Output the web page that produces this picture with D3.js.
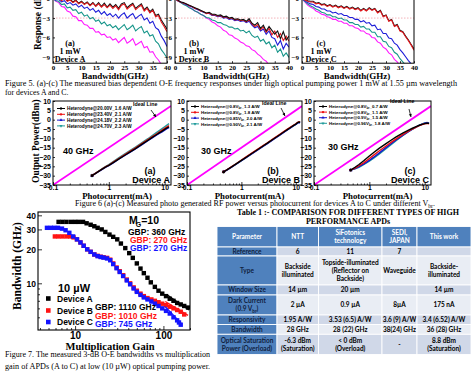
<!DOCTYPE html>
<html><head><meta charset="utf-8">
<script src="https://cdn.jsdelivr.net/npm/d3@7/dist/d3.min.js"></script>
<style>body{margin:0;background:#fff}svg{display:block}</style>
</head><body><svg id="c" width="474" height="373"></svg>
<script>
// ================= DATA =================
// Figure 5: frequency responses (dB) at 0..40 GHz
const f5_ghz = [0,1,2,3,4,5,6,7,8,9,10,11,12,13,14,15,16,17,18,19,20,21,22,23,24,25,26,27,28,29,30,31,32,33,34,35,36,37,38,39,40];
const f5a_black   = [0,-0.1,0.2,-0.2,0.2,-0.3,-0.1,-0.5,-0.2,-0.7,-0.4,-0.8,-0.5,-1.0,-0.6,-1.1,-0.6,-1.2,-0.7,-1.3,-0.8,-1.3,-0.9,-1.5,-0.8,-0.6,-1.4,-1.0,-0.7,-1.5,-1.1,-0.8,-1.7,-1.3,-2.0,-1.6,-2.6,-2.4,-3.3,-4.0,-4.7];
const f5a_red     = [0,-0.1,0.2,-0.3,0.1,-0.4,-0.2,-0.6,-0.3,-0.8,-0.5,-0.9,-0.6,-1.1,-0.7,-1.2,-0.8,-1.3,-0.9,-1.4,-1.0,-1.5,-1.1,-1.7,-1.0,-0.8,-1.6,-1.2,-0.9,-1.7,-1.3,-1.0,-1.9,-1.5,-2.2,-1.8,-2.8,-2.6,-3.6,-4.3,-5.1];
const f5a_blue    = [0,-0.2,-0.1,-0.5,-0.3,-0.8,-0.6,-1.0,-0.8,-1.3,-1.0,-1.5,-1.3,-1.8,-1.5,-2.1,-1.8,-2.4,-2.0,-2.6,-2.3,-2.8,-2.4,-3.0,-2.5,-2.2,-3.0,-2.6,-2.3,-3.1,-2.7,-2.4,-3.3,-3.0,-3.8,-3.5,-4.5,-4.8,-5.8,-6.5,-7.4];
const f5a_teal    = [0,-0.3,-0.4,-0.9,-0.8,-1.4,-1.3,-1.8,-1.7,-2.3,-2.1,-2.7,-2.5,-3.1,-2.9,-3.5,-3.3,-3.9,-3.6,-4.2,-4.0,-4.5,-4.2,-4.8,-4.4,-4.0,-4.8,-4.5,-4.1,-5.0,-4.6,-4.3,-5.3,-5.0,-5.8,-5.6,-6.6,-7.0,-7.9,-8.5,-9.2];
const f5a_magenta = [0,-0.4,-0.6,-1.2,-1.3,-1.9,-2.1,-2.7,-2.8,-3.4,-3.4,-4.0,-4.1,-4.6,-4.6,-5.2,-5.1,-5.6,-5.5,-6.0,-5.9,-6.4,-6.2,-6.8,-6.4,-6.0,-6.9,-6.6,-6.2,-7.2,-6.9,-6.6,-7.6,-7.4,-8.3,-8.2,-9.0,-9.5,-10.2,-10.8,-11.5];

const f5b_black   = [0,-0.2,-0.5,-0.6,-0.8,-1.0,-1.2,-1.4,-1.6,-1.8,-2.0,-2.2,-2.1,-2.4,-2.4,-2.6,-2.5,-2.8,-2.7,-3.0,-2.9,-3.2,-3.1,-3.3,-3.2,-3.5,-3.1,-3.8,-4.1,-3.7,-4.6,-4.1,-5.0,-4.3,-4.9,-5.5,-5.0,-6.2,-5.1,-6.4,-5.8];
const f5b_red     = [0,-0.3,-0.5,-0.7,-0.8,-1.1,-1.2,-1.5,-1.6,-1.9,-2.0,-2.3,-2.2,-2.5,-2.5,-2.7,-2.6,-2.9,-2.8,-3.1,-3.0,-3.3,-3.2,-3.4,-3.3,-3.6,-3.3,-3.9,-4.3,-4.0,-4.8,-4.4,-5.2,-4.6,-5.6,-5.0,-6.0,-5.4,-6.5,-5.8,-6.6];
const f5b_blue    = [0,-0.3,-0.5,-0.7,-0.9,-1.1,-1.3,-1.5,-1.7,-1.9,-2.1,-2.3,-2.3,-2.6,-2.6,-2.8,-2.7,-3.0,-2.9,-3.2,-3.1,-3.4,-3.3,-3.5,-3.4,-3.7,-3.5,-4.1,-4.5,-4.3,-5.0,-4.7,-5.5,-5.0,-6.0,-6.2,-7.2,-6.5,-7.8,-6.9,-7.5];
const f5b_teal    = [0,-0.3,-0.6,-0.9,-1.1,-1.4,-1.6,-1.9,-2.1,-2.4,-2.6,-2.9,-3.0,-3.3,-3.4,-3.7,-3.7,-4.0,-4.1,-4.4,-4.4,-4.7,-4.6,-5.0,-4.9,-5.3,-5.0,-5.7,-6.0,-5.8,-6.6,-6.3,-7.0,-6.7,-7.6,-7.2,-8.3,-7.8,-8.9,-8.4,-9.1];
const f5b_magenta = [0,-0.3,-0.6,-0.8,-1.0,-1.3,-1.6,-1.9,-2.1,-2.4,-2.6,-3.0,-3.2,-3.6,-3.8,-4.2,-4.4,-4.9,-5.1,-5.6,-5.7,-6.1,-6.3,-6.7,-6.9,-7.3,-7.4,-7.9,-8.1,-8.6,-8.9,-9.4,-9.7,-10.3,-10.6];

const f5c_black   = [0,-0.1,-0.3,-0.4,-0.4,-0.7,-0.6,-0.9,-0.8,-1.1,-0.9,-1.2,-1.0,-1.3,-1.1,-1.4,-1.2,-1.5,-1.3,-1.6,-1.4,-1.8,-1.5,-1.8,-1.4,-1.7,-1.5,-2.1,-1.8,-2.7,-2.5,-3.4,-3.2,-4.2,-4.0,-4.9,-5.1,-5.8,-6.4,-7.1,-7.8];
const f5c_red     = [0,-0.2,-0.4,-0.5,-0.5,-0.8,-0.7,-1.0,-0.9,-1.2,-1.0,-1.3,-1.1,-1.4,-1.2,-1.5,-1.3,-1.6,-1.4,-1.7,-1.5,-1.9,-1.6,-1.9,-1.5,-1.8,-1.6,-2.2,-1.9,-2.8,-2.6,-3.5,-3.3,-4.3,-4.1,-5.0,-5.2,-5.9,-6.5,-7.2,-8.0];
const f5c_blue    = [0,-0.3,-0.6,-0.8,-0.9,-1.2,-1.3,-1.6,-1.6,-1.9,-1.9,-2.2,-2.1,-2.4,-2.3,-2.6,-2.6,-2.9,-2.9,-3.2,-3.2,-3.6,-3.4,-3.8,-3.7,-4.2,-4.1,-4.8,-4.7,-5.4,-5.4,-6.1,-6.2,-6.9,-7.2,-7.9,-8.4,-9.0,-9.6,-10.1];
const f5c_teal    = [0,-0.4,-0.8,-1.1,-1.3,-1.6,-1.8,-2.1,-2.2,-2.5,-2.5,-2.8,-2.8,-3.1,-3.0,-3.3,-3.3,-3.7,-3.7,-4.0,-4.0,-4.4,-4.3,-4.7,-4.7,-5.2,-5.2,-5.9,-5.9,-6.6,-6.7,-7.4,-7.6,-8.3,-8.6,-9.3,-9.8,-10.3];
const f5c_magenta = [0,-0.5,-1.0,-1.3,-1.5,-1.9,-2.1,-2.4,-2.5,-2.8,-2.9,-3.2,-3.2,-3.5,-3.5,-3.8,-3.8,-4.2,-4.2,-4.5,-4.6,-5.0,-5.0,-5.4,-5.5,-6.0,-6.1,-6.7,-6.9,-7.5,-7.8,-8.4,-8.7,-9.4,-9.8,-10.4];
const f5_xticks = [0,5,10,15,20,25,30,35,40];
const f5_yticks = [0,-3,-6,-9];

// Figure 6: RF output power (dBm) vs photocurrent (mA)
const f6a_I     = [0.5,0.6,0.7,0.8,0.9,1,1.2,1.5,2,2.5,3,4,5,6,7,8,9,10,11,12];
const f6a_black = [-30,-28.5,-27.2,-26.1,-25.2,-24.5,-23.0,-21.1,-18.8,-17.0,-15.5,-13.0,-11.1,-9.5,-8.2,-7.1,-6.1,-5.2,-4.4,-3.8];
const f6a_red   = [-30,-28.4,-27.1,-26.0,-25.0,-24.3,-22.7,-20.8,-18.4,-16.6,-15.1,-12.6,-10.7,-9.1,-7.8,-6.6,-5.6,-4.7,-3.9,-3.2];
const f6a_blue  = [-30,-28.5,-27.3,-26.2,-25.3,-24.6,-23.1,-21.2,-18.9,-17.1,-15.7,-13.2,-11.3,-9.8,-8.5,-7.4,-6.5,-5.6,-4.8,-4.2];
const f6a_teal  = [-30,-28.3,-27.0,-25.8,-24.9,-24.1,-22.5,-20.5,-18.1,-16.2,-14.7,-12.1,-10.2,-8.5,-7.1,-5.9,-4.8,-3.8,-2.9,-2.1];
const f6b_I     = [0.47,0.55,0.65,0.8,1,1.2,1.5,2,2.5,3,4,5,6,7,8,9,10,10.8,11.5,12];
const f6b_black = [-28,-26.8,-25.4,-23.7,-21.8,-20.3,-18.4,-16.0,-14.1,-12.6,-10.1,-8.2,-6.6,-5.3,-4.2,-3.2,-2.4,-1.6,-1.3,-1.5];
const f6b_red   = [-28,-26.7,-25.3,-23.6,-21.6,-20.1,-18.2,-15.8,-13.9,-12.4,-9.9,-8.0,-6.4,-5.1,-4.0,-3.0,-2.2,-1.4,-1.1,-1.2];
const f6b_blue  = [-28,-26.9,-25.6,-23.9,-22.0,-20.5,-18.6,-16.2,-14.3,-12.8,-10.3,-8.4,-6.8,-5.5,-4.4,-3.4,-2.6,-1.9,-1.6,-1.8];
const f6b_teal  = [-28,-26.8,-25.5,-23.8,-21.9,-20.4,-18.5,-16.1,-14.2,-12.7,-10.2,-8.3,-6.7,-5.4,-4.3,-3.3,-2.5,-1.7,-1.2,-1.0];
const f6c_I     = [0.46,0.55,0.65,0.8,1,1.2,1.5,2,2.5,3,4,5,6,7,8,9,10,11,12];
const f6c_black = [-27,-25.5,-24.0,-21.9,-19.5,-17.6,-15.4,-12.8,-10.9,-9.4,-7.2,-5.7,-4.6,-3.7,-3.0,-2.5,-2.1,-1.9,-2.0];
const f6c_red   = [-27,-25.9,-24.7,-23.0,-20.8,-19.0,-16.8,-14.1,-12.0,-10.4,-8.0,-6.3,-5.0,-4.0,-3.2,-2.6,-2.2,-2.0,-2.2];
const f6c_blue  = [-27,-26.2,-25.2,-23.7,-21.8,-20.1,-17.9,-15.0,-12.8,-11.0,-8.4,-6.5,-5.1,-4.0,-3.1,-2.4,-1.9,-1.7,-2.0];
const f6c_teal  = [-27,-26.4,-25.5,-24.0,-22.2,-20.6,-18.5,-15.6,-13.3,-11.4,-8.6,-6.6,-5.1,-3.9,-2.9,-2.2,-1.7,-1.5,-1.8];
const f6_idealI = [0.1, 13];
const f6_idealP = [-35, 7.3];
const f6_yticks = [10,5,0,-5,-10,-15,-20,-25,-30,-35];
const f6_xticks = [0.1,1,10];
const f6a_legend = ['Heterodyne@20.00V_1.6 A/W','Heterodyne@23.40V_2.1 A/W','Heterodyne@24.18V_2.2 A/W','Heterodyne@24.70V_2.3 A/W'];
const f6b_legend = ['Heterodyne@0.8V_{br}_1.3 A/W','Heterodyne@0.8V_{br}_1.8 A/W','Heterodyne@0.85V_{br}_2.0 A/W','Heterodyne@0.90V_{br}_2.1 A/W'];
const f6c_legend = ['Heterodyne@0.8V_{br}_0.7 A/W','Heterodyne@0.8V_{br}_1.1 A/W','Heterodyne@0.9V_{br}_1.5 A/W','Heterodyne@0.96V_{br}_1.8 A/W'];

// Figure 7: 3-dB bandwidth (GHz) vs multiplication gain
const f7A_gain = [6.5,7.2,8,9,10,11,12.3,13.5,15,16.5,18,20,22,24.5,27,30,33,37,41,45,50,55,60,66,72,80,88,97,107,118,130,143,157,172,190];
const f7A_bw   = [35,35,35,35,35,35,35,34,33,32,31,30,28.5,27,25.8,24.5,22.5,20.5,18.5,16.8,15,13.5,12.3,11.2,10.2,9.3,8.6,8.1,7.7,7.3,7.0,6.7,6.5,6.3,6.1];
const f7B_gain = [5.9,6.5,7.2,8,8.8,9.6,10.5,11.5,12.5,13.7,15,16.5,18,19.5,21,23,25,27,29.5,32,35,38.5,42,46,50,55,60,66,73,80,88,97,107,118,130,143,157,172];
const f7B_bw   = [26,26,26,26,26,25.5,24.5,23,21.5,20,19,18,17.5,17.2,17,16.8,16.2,15,13.8,12.8,11.8,10.8,10,9.2,8.6,8.1,7.7,7.4,7.2,7.0,6.8,6.6,6.4,6.2,6.0,5.8,5.6,5.3];
const f7C_gain = [4.8,5.3,5.8,6.4,7.1,7.8,8.6,9.5,10.5,11.5,12.5,13.7,15,16.5,18,19.5,21,23,25,27,29.5,32,35,38.5,42,46,50,55,60,66,73,80,88,97,107,118,130,143,150,157];
const f7C_bw   = [31,31,31,31,30.5,29.5,28,26,24.5,23,21.5,20,19,18,17.4,17.1,16.9,16.6,16,14.8,13.6,12.6,11.6,10.6,9.8,9.0,8.4,7.9,7.5,7.2,6.9,6.6,6.3,6.0,5.7,5.4,5.0,4.7,4.5,4.3];
const f7fitA_gain = [110,195], f7fitA_bw = [7.9,5.8];
const f7fitB_gain = [105,190], f7fitB_bw = [6.9,5.2];
const f7fitC_gain = [105,160], f7fitC_bw = [6.2,4.4];
const f7_yticks = [10,20,30,40];
const f7_xticks = [10,100];

// Table 1
const tblHeader = ['Parameter','NTT','SiFotonics\ntechnology','SEDI,\nJAPAN','This work'];
const tblRowLabels = ['Reference','Type','Window Size','Dark Current\n(0.9 V_{br})','Responsivity','Bandwidth','Optical Saturation\nPower (Overload)'];
const tblNTT  = ['6','Backside\nilluminated','14 µm','2 µA','1.95 A/W','28 GHz','-6.3 dBm\n(Saturation)'];
const tblSiF  = ['11','Topside-illuminated\n(Reflector on\nBackside)','20 µm','0.9 µA','3.53 (6.5) A/W','28 (22) GHz','< 0 dBm\n(Overload)'];
const tblSEDI = ['7','Waveguide','','8µA','3.6 (9) A/W','38(24) GHz','-'];
const tblThis = ['','Backside-\nilluminated','14 µm','175 nA','3.4 (6.52) A/W','36 (28) GHz','8.8 dBm\n(Saturation)'];

// ================= DRAWING =================
const SERIF = '"Liberation Serif","Times New Roman",serif';
const SANS  = '"Liberation Sans",Arial,sans-serif';
const TBL   = 'Lato,"Liberation Sans",sans-serif';
const svg = d3.select('#c');
svg.append('rect').attr('width',474).attr('height',373).attr('fill','#fff');

function rich(t, s, fs){
  let shift = 0;
  s.split(/(_\{[^}]*\})/).forEach(p=>{
    if(!p) return;
    if(p.startsWith('_{')){ const d = fs*0.25; t.append('tspan').attr('font-size',fs*0.7).attr('dy',d).text(p.slice(2,-1)); shift = d; }
    else { t.append('tspan').attr('dy',-shift).text(p); shift = 0; }
  });
  return t;
}
function label(g, x, y, s, fs, fam, opt){
  opt = opt||{};
  const t = g.append('text').attr('x',x).attr('y',y).attr('font-size',fs).attr('font-family',fam)
    .attr('font-weight',opt.weight||'bold').attr('fill',opt.fill||'#000').attr('text-anchor',opt.anchor||'start');
  if(opt.rotate) t.attr('transform',`rotate(-90,${x},${y})`);
  if(opt.len) t.attr('textLength',opt.len).attr('lengthAdjust','spacingAndGlyphs');
  rich(t, s, fs);
  return t;
}
function styleAxis(g, fs, fam){
  g.select('.domain').remove();
  g.attr('font-size',null).attr('font-family',null);
  g.selectAll('text').attr('font-size',fs).attr('font-family',fam).attr('font-weight','bold').attr('fill','#000');
  g.selectAll('line').attr('stroke','#000').attr('stroke-width',0.8);
}
let clipId = 0;
function clipRect(x,y,w,h){
  const id = 'clip'+(clipId++);
  svg.append('clipPath').attr('id',id).append('rect').attr('x',x).attr('y',y).attr('width',w).attr('height',h);
  return `url(#${id})`;
}

// ---------- Figure 5 ----------
const C5 = {black:'#111', red:'#e3161b', blue:'#1d1dd8', teal:'#17968a', magenta:'#ff1aff'};
const fig5 = [
  {x0:53, x1:167, lx:70, tx:115, tag:['(a)','1 mW','Device A'],
   s:[[f5a_magenta,'magenta'],[f5a_teal,'teal'],[f5a_blue,'blue'],[f5a_black,'black'],[f5a_red,'red']]},
  {x0:175, x1:289, lx:194, tx:236, tag:['(b)','1 mW','Device B'],
   s:[[f5b_magenta,'magenta'],[f5b_teal,'teal'],[f5b_blue,'blue'],[f5b_red,'red'],[f5b_black,'black']]},
  {x0:302, x1:414, lx:321, tx:357, tag:['(c)','1 mW','Device C'],
   s:[[f5c_magenta,'magenta'],[f5c_teal,'teal'],[f5c_blue,'blue'],[f5c_black,'black'],[f5c_red,'red']]}
];
const y5 = d3.scaleLinear().domain([-10,1.2]).range([63.2,-9]);
fig5.forEach(p=>{
  const x = d3.scaleLinear().domain([0,40]).range([p.x0,p.x1]);
  const g = svg.append('g');
  const cp = clipRect(p.x0, y5(1.2), p.x1-p.x0, y5(-10)-y5(1.2));
  const pg = g.append('g').attr('clip-path',cp);
  pg.append('line').attr('x1',p.x0).attr('x2',p.x1).attr('y1',y5(-3)).attr('y2',y5(-3))
    .attr('stroke','#f0a0a8').attr('stroke-width',0.8).attr('stroke-dasharray','1.5,1.5');
  const line = d3.line().x((d,i)=>x(f5_ghz[i])).y(d=>y5(d));
  p.s.forEach(([arr,c])=>{
    pg.append('path').attr('d',line(arr)).attr('fill','none').attr('stroke',C5[c]).attr('stroke-width',1.1);
  });
  g.append('rect').attr('x',p.x0).attr('y',y5(1.2)).attr('width',p.x1-p.x0).attr('height',y5(-10)-y5(1.2))
    .attr('fill','none').attr('stroke','#000').attr('stroke-width',1);
  const ax = g.append('g').attr('transform',`translate(0,${y5(-10)})`)
    .call(d3.axisBottom(x).tickValues(f5_xticks).tickSize(-2).tickPadding(2));
  styleAxis(ax, 7, SERIF);
  const ay = g.append('g').attr('transform',`translate(${p.x0},0)`)
    .call(d3.axisLeft(y5).tickValues(f5_yticks).tickFormat(d3.format('d')).tickSize(-2).tickPadding(3));
  styleAxis(ay, 7, SERIF);
  p.tag.forEach((t,i)=> label(g, p.lx, 45.5+i*8, t, 8.2, SERIF, {anchor:'middle'}));
  label(g, p.tx, 78.5, 'Bandwidth(GHz)', 9, SERIF, {anchor:'middle'});
});
label(svg, 41, 50, 'Response (dB)', 9.5, SERIF, {rotate:true});

label(svg, 5, 86.3, 'Figure 5. (a)-(c) The measured bias dependent O-E frequency responses under high optical pumping power 1 mW at 1.55 µm wavelength', 7.8, SERIF, {weight:'normal', len:452});
label(svg, 5, 94.8, 'for devices A and C.', 7.8, SERIF, {weight:'normal'});

// ---------- Figure 6 ----------
const C6 = {black:'#000', red:'#ee1111', blue:'#1515cc', teal:'#229c9c', magenta:'#ff00ff'};
const fig6 = [
  {x0:53, x1:171, I:f6a_I, s:[['teal',f6a_teal],['blue',f6a_blue],['red',f6a_red],['black',f6a_black]],
   leg:f6a_legend, lgx:57, lgy:108.5, lgdy:5.8, lfs:4.7, freq:'40 GHz', fx:63, fy:153.5,
   ideal:[133,105.5,151,110,156,117], tagx:150, dev:'Device A', devx:170},
  {x0:187, x1:302, I:f6b_I, s:[['teal',f6b_teal],['blue',f6b_blue],['red',f6b_red],['black',f6b_black]],
   leg:f6b_legend, lgx:191, lgy:106.5, lgdy:5.8, lfs:4.4, freq:'30 GHz', fx:201, fy:153.5,
   ideal:[262,104.5,281,108,285,116], tagx:273, dev:'Device B', devx:300},
  {x0:314, x1:431, I:f6c_I, s:[['teal',f6c_teal],['blue',f6c_blue],['red',f6c_red],['black',f6c_black]],
   leg:f6c_legend, lgx:319, lgy:106.5, lgdy:5.6, lfs:4.4, freq:'30 GHz', fx:328, fy:150,
   ideal:[390,102.5,409,109,411,117], tagx:410, dev:'Device C', devx:429}
];
const legOrder = ['black','red','blue','teal'];
const y6 = d3.scaleLinear().domain([-35,10]).range([185,101]);
const minor6 = [0.2,0.3,0.4,0.5,0.6,0.7,0.8,0.9,2,3,4,5,6,7,8,9];
function marker(g, type, x, y, c, r){
  const sym = {black:d3.symbolSquare, red:d3.symbolCircle, blue:d3.symbolTriangle, teal:d3.symbolTriangle}[type];
  return g.append('path').attr('d',d3.symbol().type(sym).size(r*r*3)()).attr('fill',c)
    .attr('transform',`translate(${x},${y})${type==='teal'?' rotate(180)':''}`);
}
fig6.forEach((p,pi)=>{
  const x = d3.scaleLog().domain([0.1,13]).range([p.x0,p.x1]);
  const g = svg.append('g');
  const pg = g.append('g').attr('clip-path',clipRect(p.x0,101,p.x1-p.x0,84));
  pg.append('path').attr('d',d3.line().x((d,i)=>x(f6_idealI[i])).y(d=>y6(d))(f6_idealP))
    .attr('stroke',C6.magenta).attr('stroke-width',1.8).attr('fill','none');
  p.s.forEach(([c,arr])=>{
    pg.append('path').attr('d',d3.line().x((d,i)=>x(p.I[i])).y(d=>y6(d))(arr))
      .attr('fill','none').attr('stroke',C6[c]).attr('stroke-width',1.4);
    marker(pg, c, x(p.I[0]), y6(arr[0]), C6[c], 1.4);
  });
  g.append('rect').attr('x',p.x0).attr('y',101).attr('width',p.x1-p.x0).attr('height',84)
    .attr('fill','none').attr('stroke','#000').attr('stroke-width',1);
  const axm = g.append('g').attr('transform','translate(0,185)')
    .call(d3.axisBottom(x).tickValues(minor6).tickFormat('').tickSize(-1.5));
  styleAxis(axm, 7, SANS);
  const ax = g.append('g').attr('transform','translate(0,185)')
    .call(d3.axisBottom(x).tickValues(f6_xticks).tickFormat(d=>String(d)).tickSize(-3).tickPadding(0.6));
  styleAxis(ax, 6.8, SANS);
  const ay = g.append('g').attr('transform',`translate(${p.x0},0)`)
    .call(d3.axisLeft(y6).tickValues(f6_yticks).tickSize(-2).tickPadding(2));
  styleAxis(ay, 7, SANS);
  p.leg.forEach((t,i)=>{
    const yy = p.lgy + i*p.lgdy;
    const c = C6[legOrder[i]];
    g.append('line').attr('x1',p.lgx).attr('x2',p.lgx+8).attr('y1',yy).attr('y2',yy).attr('stroke',c).attr('stroke-width',1);
    marker(g, legOrder[i], p.lgx+4, yy, c, 1.2);
    label(g, p.lgx+10, yy+1.6, t, p.lfs, SANS);
  });
  const [tx,ty,ax1,ay1,ax2,ay2] = p.ideal;
  label(g, tx, ty, 'Ideal Line', 5.3, SANS);
  g.append('line').attr('x1',ax1).attr('y1',ay1).attr('x2',ax2).attr('y2',ay2).attr('stroke','#000').attr('stroke-width',0.8);
  const ang = Math.atan2(ay2-ay1, ax2-ax1)*180/Math.PI;
  g.append('path').attr('d','M0,0L-3,-1.5L-3,1.5Z').attr('fill','#000').attr('transform',`translate(${ax2},${ay2}) rotate(${ang})`);
  label(g, p.fx, p.fy, p.freq, 9, SANS);
  label(g, p.tagx, 174, '('+'abc'[pi]+')', 9, SANS, {anchor:'middle'});
  label(g, p.devx, 183, p.dev, 9, SANS, {anchor:'end'});
  label(g, (p.x0+p.x1)/2 + 5, 198.5, 'Photocurrent(mA)', 8.8, SERIF, {anchor:'middle'});
});
label(svg, 39, 183, 'Output Power(dBm)', 9.5, SERIF, {rotate:true});
label(svg, 75, 206, 'Figure 6 (a)-(c) Measured photo generated RF power versus photocurrent for devices A to C under different V_{br}.', 7.4, SERIF, {weight:'normal', len:360});

// ---------- Figure 7 ----------
const C7 = {A:'#000', B:'#ff1414', C:'#1414ff'};
const x7 = d3.scaleLog().domain([3.8,200]).range([38,190]);
const y7 = d3.scaleLog().domain([3.86,42.8]).range([330,212]);
{
  const g = svg.append('g');
  const pg = g.append('g').attr('clip-path',clipRect(38,212,152,118));
  [['B',f7B_gain,f7B_bw],['C',f7C_gain,f7C_bw],['A',f7A_gain,f7A_bw]].forEach(([k,gx,bw])=>{
    pg.selectAll(null).data(bw).enter().append('rect')
      .attr('x',(d,i)=>x7(gx[i])-2.2).attr('y',d=>y7(d)-2.2).attr('width',4.4).attr('height',4.4).attr('fill',C7[k]);
  });
  [['A',f7fitA_gain,f7fitA_bw],['B',f7fitB_gain,f7fitB_bw],['C',f7fitC_gain,f7fitC_bw]].forEach(([k,gx,bw])=>{
    pg.append('path').attr('d',d3.line().x((d,i)=>x7(gx[i])).y(d=>y7(d))(bw)).attr('stroke',C7[k]).attr('stroke-width',1.3).attr('fill','none');
  });
  g.append('rect').attr('x',38).attr('y',212).attr('width',152).attr('height',118).attr('fill','none').attr('stroke','#000').attr('stroke-width',1.1);
  const minx = [4,5,6,7,8,9,20,30,40,50,60,70,80,90,200];
  styleAxis(g.append('g').attr('transform','translate(0,330)').call(d3.axisBottom(x7).tickValues(minx).tickFormat('').tickSize(-2)),10,SANS);
  styleAxis(g.append('g').attr('transform','translate(0,330)').call(d3.axisBottom(x7).tickValues(f7_xticks).tickFormat(d=>String(d)).tickSize(-4).tickPadding(1.5)),10,SANS);
  styleAxis(g.append('g').attr('transform','translate(38,0)').call(d3.axisLeft(y7).tickValues([5,6,7,8,9]).tickFormat('').tickSize(-2)),9,SANS);
  styleAxis(g.append('g').attr('transform','translate(38,0)').call(d3.axisLeft(y7).tickValues(f7_yticks).tickFormat(d=>String(d)).tickSize(-4).tickPadding(2)),8.5,SANS);
  label(g, 110, 349.8, 'Multiplication Gain', 10.5, SERIF, {anchor:'middle'});
  label(g, 21, 266, 'Bandwidth (GHz)', 11.5, SERIF, {rotate:true, anchor:'middle'});
  const mg = g.append('text').attr('x',129).attr('y',224).attr('font-size',10.5).attr('font-family',SANS).attr('font-weight','bold');
  mg.append('tspan').text('M');
  mg.append('tspan').attr('font-size',7).attr('dy',3).attr('dx',-2).text('G');
  mg.append('tspan').attr('dy',-3).text('=10');
  label(g, 128, 235, 'GBP: 360 GHz', 8.5, SANS, {fill:C7.A});
  label(g, 130, 243, 'GBP: 270 GHz', 8.5, SANS, {fill:C7.B});
  label(g, 130, 250.8, 'GBP: 270 GHz', 8.5, SANS, {fill:C7.C});
  label(g, 58, 292, '10 µW', 11, SANS);
  [['A',298.5],['B',310.5],['C',322]].forEach(([k,yy])=>{
    g.append('rect').attr('x',46).attr('y',yy-2.3).attr('width',4.6).attr('height',4.6).attr('fill',C7[k]);
    label(g, 57, yy+3, 'Device '+k, 8.5, SANS);
  });
  label(g, 95, 310, 'GBP: 1110 GHz', 8.5, SANS, {fill:C7.A});
  label(g, 95, 318.5, 'GBP: 1010 GHz', 8.5, SANS, {fill:C7.B});
  label(g, 95, 326.8, 'GBP: 745 GHz', 8.5, SANS, {fill:C7.C});
}
label(svg, 5, 357.3, 'Figure 7. The measured 3-dB O-E bandwidths vs multiplication', 7.8, SERIF, {weight:'normal', len:205});
label(svg, 5, 369, 'gain of APDs (A to C) at low (10 µW) optical pumping power.', 7.8, SERIF, {weight:'normal', len:205});

// ---------- Table ----------
label(svg, 348, 215, 'Table 1 :- COMPARISON FOR DIFFERENT TYPES OF HIGH', 8, SERIF, {anchor:'middle', len:222});
label(svg, 348, 224.2, 'PERFORMANCE APDs', 8, SERIF, {anchor:'middle'});
{
  const colX = [217, 277, 318.5, 382, 417, 471];
  const rowY = [226.5, 247, 256, 285, 295, 315, 324.5, 334.3, 354.5];
  const body = [tblNTT, tblSiF, tblSEDI, tblThis];
  const g = svg.append('g');
  function cell(ci, ri, fill, text, color){
    const x = colX[ci], w = colX[ci+1]-colX[ci], y = rowY[ri], h = rowY[ri+1]-rowY[ri];
    g.append('rect').attr('x',x).attr('y',y).attr('width',w).attr('height',h).attr('fill',fill).attr('stroke','#fff').attr('stroke-width',0.9);
    const lines = text.split('\n');
    const fs = 6.5, lh = 8.2;
    lines.forEach((ln,k)=>{
      const yy = y + h/2 + (k-(lines.length-1)/2)*lh + fs*0.36;
      label(g, x+w/2, yy, ln, fs, TBL, {anchor:'middle', fill:color});
    });
  }
  tblHeader.forEach((t,ci)=>cell(ci,0,'#4f81bd',t,'#fff'));
  tblRowLabels.forEach((t,ri)=>{
    const band = ri%2===0 ? '#d0d8e8' : '#e9edf4';
    cell(0, ri+1, '#4f81bd', t, '#10223f');
    body.forEach((col,ci)=>cell(ci+1, ri+1, band, col[ri], '#000'));
  });
}
</script>
</body></html>
